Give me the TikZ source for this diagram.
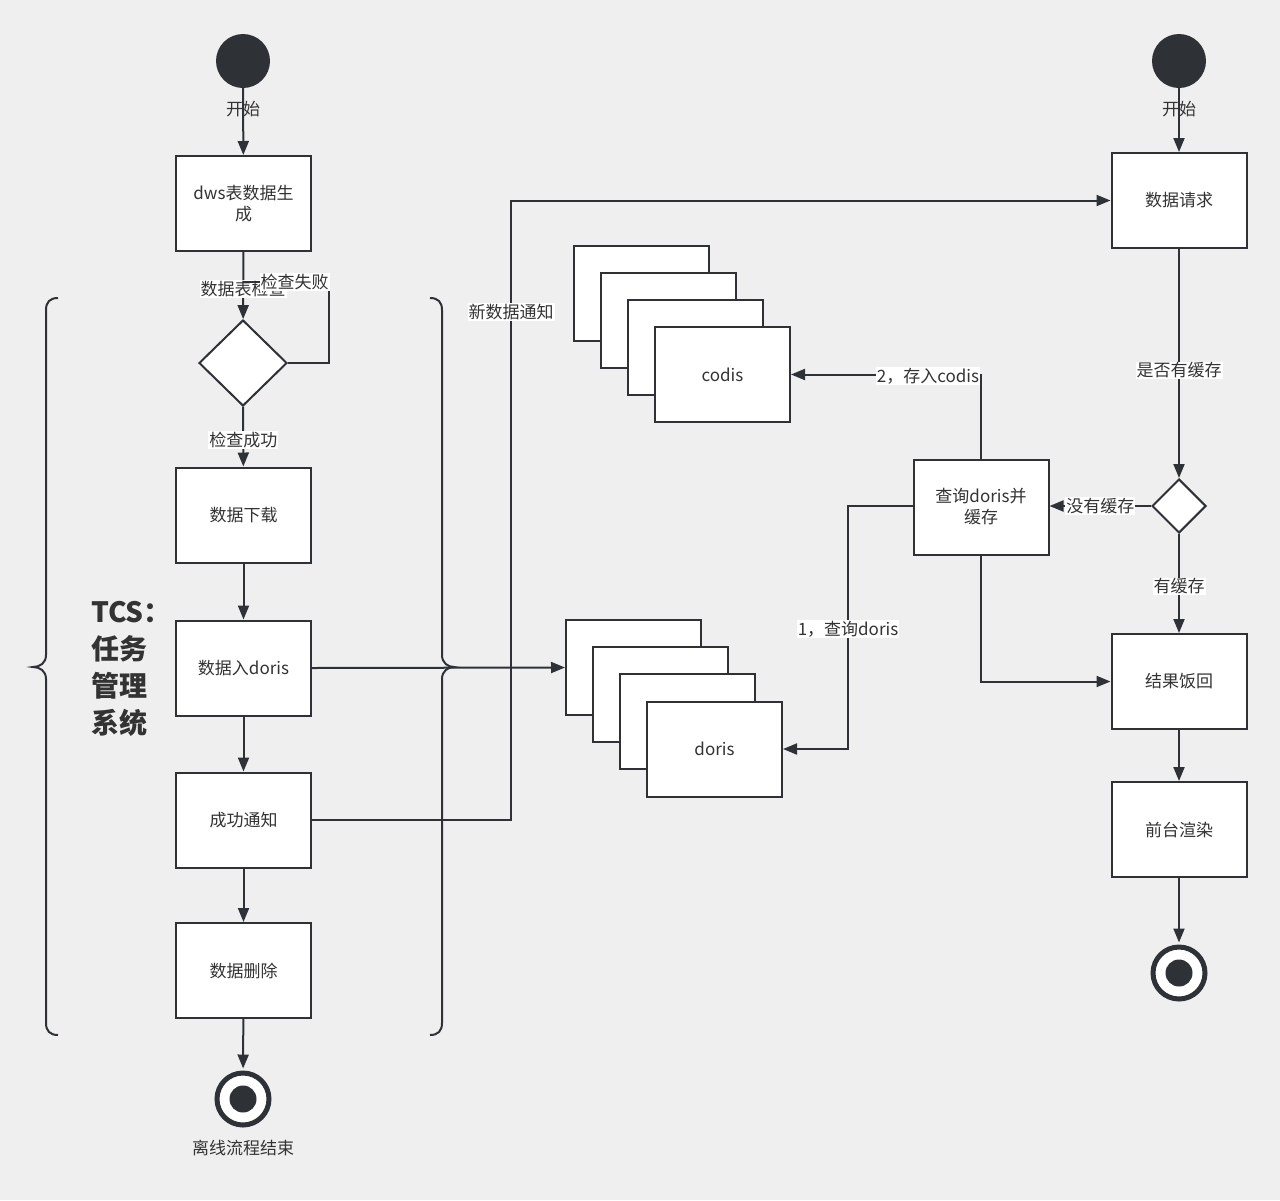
\documentclass[tikz,border=0pt]{standalone}
\usepackage{fontspec}
\setmainfont{Noto Sans CJK SC}
\usetikzlibrary{arrows.meta,shapes.geometric}
\definecolor{bg}{HTML}{EFEFEF}
\definecolor{ln}{HTML}{2E3236}
\definecolor{tx}{HTML}{333333}
\newcommand\fs{\fontsize{17}{21}\selectfont}
\begin{document}
\begin{tikzpicture}[x=1pt,y=-1pt,
  box/.style={draw=ln,line width=2pt,fill=white,minimum width=135pt,minimum height=95pt,inner sep=2pt,align=center,text=tx,font=\fs},
  dia/.style={draw=ln,line width=2pt,fill=white,diamond,inner sep=0pt},
  startc/.style={circle,fill=ln,minimum size=54pt,inner sep=0pt},
  endc/.style={circle,draw=ln,line width=5pt,fill=white,minimum size=52pt,inner sep=0pt,
    path picture={\fill[ln] (path picture bounding box.center) circle (13.5pt);}},
  arr/.style={draw=ln,line width=2pt,-{Triangle[length=14pt,width=11pt]}},
  con/.style={draw=ln,line width=2pt},
  lbl/.style={fill=white,inner sep=1pt,text=tx,font=\fs},
  plain/.style={inner sep=1pt,text=tx,font=\fs}]
\fill[bg] (0,0) rectangle (1280,1200);
\useasboundingbox (0,0) rectangle (1280,1200);

% left column
\node[startc] (st1) at (243,61) {};
\node[box] (dws) at (243.5,203.5) {dws表数据生\\成};
\node[dia,minimum width=88pt,minimum height=86pt] (d1) at (243,363) {};
\node[box] (s2) at (243.5,515) {数据下载};
\node[box] (s3) at (243.5,668) {数据入doris};
\node[box] (s4) at (243.5,820) {成功通知};
\node[box] (s5) at (243.5,970.5) {数据删除};
\node[endc] (e1) at (243,1099) {};
\node[plain] (e1l) at (243,1148) {离线流程结束};

\draw[arr] (st1) -- (dws);
\node[plain] (st1l) at (243,109) {开始};
\draw[arr] (dws) -- (d1) node[lbl,pos=0.55] (l1) {数据表检查};
\draw[con] (d1.east) -| (329,282) -- (243,282);
\node[lbl] (l2) at (294.5,282) {检查失败};
\draw[arr] (d1) -- (s2) node[lbl,pos=0.55] (l3) {检查成功};
\draw[arr] (s2) -- (s3);
\draw[arr] (s3) -- (s4);
\draw[arr] (s4) -- (s5);
\draw[arr,shorten >=2pt] (s5) -- (e1);

% braces
\draw[con] (58,298) .. controls (50,298) and (46,302) .. (46,310) -- (46,655)
  .. controls (46,663) and (40,667) .. (33,667) .. controls (40,667) and (46,671) .. (46,679)
  -- (46,1023) .. controls (46,1031) and (50,1035) .. (58,1035);
\draw[con] (430,298) .. controls (438,298) and (442,302) .. (442,310) -- (442,655)
  .. controls (442,663) and (448,667) .. (454,667) .. controls (448,667) and (442,671) .. (442,679)
  -- (442,1023) .. controls (442,1031) and (438,1035) .. (430,1035);
\node[anchor=west,inner sep=0pt,align=left,text=tx,font=\fontsize{28}{37}\selectfont\bfseries] (tcs) at (91,669) {TCS：\\任务\\管理\\系统};

% stacks
\node[box] (c1) at (641.5,293.5) {};
\node[box] (c2) at (668.5,320.5) {};
\node[box] (c3) at (695.5,347.5) {};
\node[box] (c4) at (722.5,374.5) {codis};
\node[box] (o1) at (633.5,667.5) {};
\node[box] (o2) at (660.5,694.5) {};
\node[box] (o3) at (687.5,721.5) {};
\node[box] (o4) at (714.5,749) {doris};

% right column
\node[startc] (st2) at (1179,61) {};
\node[box] (req) at (1179,200.5) {数据请求};
\node[dia,minimum width=54pt,minimum height=54pt] (d2) at (1179,506) {};
\node[box] (q) at (981,507) {查询doris并\\缓存};
\node[box] (res) at (1179,681.5) {结果饭回};
\node[box] (fe) at (1179,829.5) {前台渲染};
\node[endc] (e2) at (1179,973) {};

\draw[arr] (st2) -- (req);
\node[plain] (st2l) at (1179,109) {开始};
\draw[arr] (req) -- (d2) node[lbl,pos=0.53] (l4) {是否有缓存};
\draw[arr] (d2.west) -- (q.east |- d2.west) node[lbl,pos=0.5] (l5) {没有缓存};
\draw[arr] (d2.south) -- (res.north) node[lbl,pos=0.53] (l6) {有缓存};
\draw[arr] (res) -- (fe);
\draw[arr,shorten >=2pt] (fe) -- (e2);

% cross connectors
\draw[arr] (s3.east) -- (o1.west);
\draw[arr] (s4.east) -- (511,820) |- (req.west);
\node[lbl] (l7) at (511,312) {新数据通知};
\draw[arr] (q.north) |- (c4.east);
\node[lbl] (l8) at (928,376) {2，存入codis};
\draw[arr] (q.west |- d2.west) -- (848,506) |- (o4.east);
\node[lbl] (l9) at (848,629) {1，查询doris};
\draw[arr] (q.south) |- (res.west);
\end{tikzpicture}
\end{document}
